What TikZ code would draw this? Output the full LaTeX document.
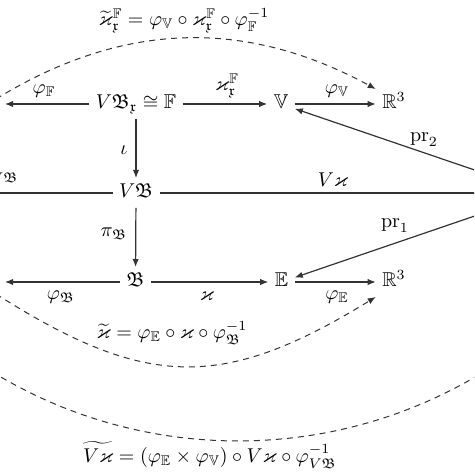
\documentclass[tikz,border=0pt]{standalone}
\usepackage{amssymb}
\usetikzlibrary{arrows.meta}
\begin{document}
\begin{tikzpicture}[x=0.5pt,y=-0.5pt,
  obj/.style={inner xsep=3.3pt, inner ysep=2pt, outer sep=0pt, text height=8pt, text depth=3pt},
  lab/.style={inner sep=0pt},
  arr/.style={-{Latex[length=4pt,width=3.2pt]}, line width=0.6pt, draw=black!80},
  dsh/.style={-{Latex[length=4pt,width=3.2pt]}, dash pattern=on 3pt off 2.5pt, line width=0.5pt, draw=black!80},
]
\useasboundingbox (0,0) rectangle (474,474);
\clip (0,0) rectangle (474,474);
% objects
\node[obj] (VBx) at (136,104) {$V\mathfrak{B}_{\mathfrak{x}}\cong\mathbb{F}$};
\node[obj] (V) at (281,104) {$\mathbb{V}$};
\node[obj] (R3t) at (394,104) {$\mathbb{R}^3$};
\node[obj] (VB) at (136,193) {$V\mathfrak{B}$};
\node[obj] (B) at (135.5,282) {$\mathfrak{B}$};
\node[obj] (E) at (281.5,282) {$\mathbb{E}$};
\node[obj] (R3b) at (394,282) {$\mathbb{R}^3$};
% free ends
\coordinate (L1) at (5,104);
\coordinate (L2) at (-20,193);
\coordinate (L3) at (5,282);
\coordinate (R) at (542,193);
\coordinate (TS) at (-4,99);
\coordinate (BS) at (-4,294);
\coordinate (C2L) at (-94.3,303.5);
\coordinate (C2R) at (570.3,303.5);
% arrows
\draw[arr] (VBx) -- (L1);
\draw[arr] (VBx) -- (V);
\draw[arr] (V) -- (R3t);
\draw[arr] (VBx) -- (VB);
\draw[arr] (VB) -- (L2);
\draw[arr] (VB) -- (R);
\draw[arr] (VB) -- (B);
\draw[arr] (B) -- (L3);
\draw[arr] (B) -- (E);
\draw[arr] (E) -- (R3b);
\draw[arr] (R) -- (V);
\draw[arr] (R) -- (E);
% dashed
\draw[dsh] (TS) to[bend left=30] (R3t.north west);
\draw[dsh] (BS) to[bend right=32, looseness=1.2] (R3b.south west);
\draw[dsh, -] (C2L) to[bend right=45] (C2R);
% labels
\node[lab] (lphiF) at (44,91) {$\varphi_{\mathbb{F}}$};
\node[lab] (lkapF) at (227,86) {$\varkappa^{\mathbb{F}}_{\mathfrak{x}}$};
\node[lab] (lphiV) at (337,91) {$\varphi_{\mathbb{V}}$};
\node[lab] (liota) at (124,150) {$\iota$};
\node[lab] (lpiB) at (114,234) {$\pi_{\mathfrak{B}}$};
\node[lab] (lVk) at (333,180) {$V\varkappa$};
\node[lab] (lpr2) at (424,140) {$\mathrm{pr}_2$};
\node[lab] (lpr1) at (395,226) {$\mathrm{pr}_1$};
\node[lab] (lphiB) at (61,297) {$\varphi_{\mathfrak{B}}$};
\node[lab] (lkap) at (207,296) {$\varkappa$};
\node[lab] (lphiE) at (337,297) {$\varphi_{\mathbb{E}}$};
\node[lab, anchor=east] (lphiVB) at (19,177) {$\varphi_{V\mathfrak{B}}$};
\node[lab] (ltop) at (184,21) {$\widetilde{\varkappa}^{\mathbb{F}}_{\mathfrak{x}}=\varphi_{\mathbb{V}}\circ\varkappa^{\mathbb{F}}_{\mathfrak{x}}\circ\varphi_{\mathbb{F}}^{-1}$};
\node[lab] (lbot1) at (172,333) {$\widetilde{\varkappa}=\varphi_{\mathbb{E}}\circ\varkappa\circ\varphi_{\mathfrak{B}}^{-1}$};
\node[lab] (lbot2) at (210,455) {$\widetilde{V\varkappa}=(\varphi_{\mathbb{E}}\times\varphi_{\mathbb{V}})\circ V\varkappa\circ\varphi_{V\mathfrak{B}}^{-1}$};
\end{tikzpicture}
\end{document}
